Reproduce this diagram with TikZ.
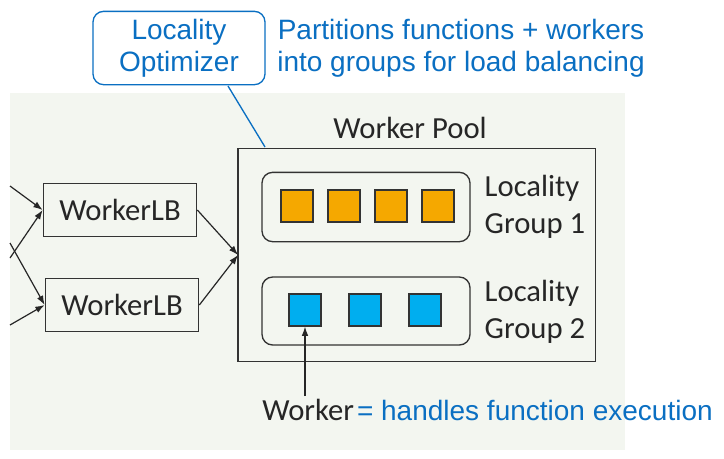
\documentclass[tikz,border=0pt]{standalone}
\usepackage{fontspec}
\setmainfont{Carlito}
\newfontfamily\bluef{Liberation Sans}
\usetikzlibrary{arrows.meta}
\definecolor{bg}{HTML}{F3F6F0}
\definecolor{cblue}{HTML}{0A6FC2}
\definecolor{orng}{HTML}{F5A800}
\definecolor{sky}{HTML}{00AEEF}
\begin{document}
\begin{tikzpicture}[x=0.75pt,y=-0.75pt,
  box/.style={draw=black!80,line width=1pt},
  sq/.style={draw=black!80,line width=0.8pt,minimum size=24pt,inner sep=0pt},
  arr/.style={-{Latex[length=7pt,width=5pt]},line width=0.9pt,black!85},
  blk/.style={font=\fontsize{23}{28}\selectfont,text=black!85},
  blu/.style={font=\bluef\fontsize{21}{24}\selectfont,text=cblue,align=center}]
\useasboundingbox (0,0) rectangle (724,458);
\fill[bg] (10,93) rectangle (625,450);
% callout
\node[draw=cblue,line width=1pt,rounded corners=8pt,minimum width=129pt,minimum height=55pt,blu] (opt) at (179,48) {Locality\\Optimizer};
\node[blu] (part) at (461,48) {Partitions functions + workers\\into groups for load balancing};
% pool
\node[box,minimum width=268pt,minimum height=160pt] (pool) at (416.5,255) {};
\node[blk] (pt) at (410,128) {Worker Pool};
\draw[cblue,line width=1pt] (228,86) -- (265,147);
\node[box,rounded corners=8pt,minimum width=156pt,minimum height=52pt] (g1) at (366,207) {};
\node[box,rounded corners=8pt,minimum width=156pt,minimum height=51pt] (g2) at (366,311) {};
\foreach \x/\n in {297/a,344/b,391/c,438/d} \node[sq,fill=orng] (o\n) at (\x,206) {};
\foreach \x/\n in {305/a,365/b,425/c} \node[sq,fill=sky] (s\n) at (\x,310) {};
\node[blk,align=left,anchor=west] (l1) at (480,207) {Locality\\Group 1};
\node[blk,align=left,anchor=west] (l2) at (480,312) {Locality\\Group 2};
% LBs
\node[box,minimum width=115pt,minimum height=40pt,blk] (lb1) at (120,210) {WorkerLB};
\node[box,minimum width=115pt,minimum height=40pt,blk] (lb2) at (122,305) {WorkerLB};
\coordinate (i1) at (10,186);
\coordinate (i2) at (10,258);
\coordinate (i3) at (10,243);
\coordinate (i4) at (10,325);
\coordinate (pin) at (238,255);
\draw[arr] (i1) -- (lb1.west);
\draw[arr] (i2) -- (lb1.west);
\draw[arr] (i3) -- (lb2.west);
\draw[arr] (i4) -- (lb2.west);
\draw[arr] (lb1.east) -- (pin);
\draw[arr] (lb2.east) -- (pin);
% worker
\node[blk,anchor=west,inner sep=0pt] (w) at (262,410) {Worker};
\node[font=\bluef\fontsize{21}{24}\selectfont,text=cblue,anchor=east,inner sep=0pt] (wd) at (713,410) {= handles function execution};
\draw[arr] (305,396) -- (sa.south);
\end{tikzpicture}
\end{document}
